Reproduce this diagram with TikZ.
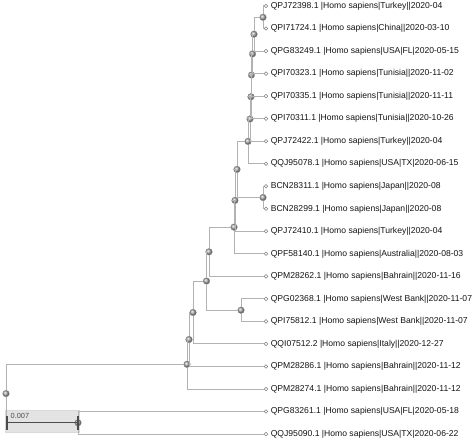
\documentclass[tikz,border=0pt]{standalone}
\usepackage{fontspec}
\setmainfont{Liberation Sans}
\usetikzlibrary{positioning}

\tikzset{
  clade/.style={circle,draw=gray!90,inner sep=0pt,minimum size=6.6pt,ball color=gray!65},
  tip/.style={circle,draw=gray,fill=white,inner sep=0pt,minimum size=3.6pt,line width=0.55pt},
  taxon/.style={inner sep=0pt,text=black!92,font=\fontsize{8.6}{10}\selectfont},
  branch/.style={draw=gray!60,line width=1pt,to path={|- (\tikztotarget)}},
}

\begin{document}
\begin{tikzpicture}[x=1pt,y=-1pt]
    \useasboundingbox (0,0) rectangle (474,441);
    % scale bar background
    \filldraw[fill=gray!22,draw=gray!30,line width=0.4pt] (5,410) rectangle (79,432);
    \begin{scope}[every node/.style={clade}]
    \node (r) at (6,393.6) {};
    \node (nb) at (78,422.8) {};
    \node (m) at (187,364.3) {};
    \node (l) at (189,339.5) {};
    \node (k) at (193,312.5) {};
    \node (d) at (206.5,281.0) {};
    \node (j) at (209,251.8) {};
    \node (c) at (241,310.2) {};
    \node (i) at (234,227.1) {};
    \node (g) at (235,200.4) {};
    \node (f) at (237,169.4) {};
    \node (h) at (263,197.5) {};
    \node (n8) at (248,141.4) {};
    \node (n7) at (250,119.0) {};
    \node (n6) at (251,96.8) {};
    \node (n5) at (251.5,75.0) {};
    \node (n4) at (252.5,53.9) {};
    \node (n3) at (254,34.2) {};
    \node (n2) at (263,17.3) {};
    \end{scope}
    \begin{scope}[every node/.style={tip}]
    \node (l1) at (266,6) {};
    \node (l2) at (266,28.5) {};
    \node (l3) at (266,51.1) {};
    \node (l4) at (266,73.6) {};
    \node (l5) at (266,96.1) {};
    \node (l6) at (266,118.6) {};
    \node (l7) at (266,141.2) {};
    \node (l8) at (266,163.7) {};
    \node (l9) at (266,186.2) {};
    \node (l10) at (266,208.8) {};
    \node (l11) at (266,231.3) {};
    \node (l12) at (266,253.8) {};
    \node (l13) at (266,276.4) {};
    \node (l14) at (266,298.9) {};
    \node (l15) at (266,321.4) {};
    \node (l16) at (266,343.9) {};
    \node (l17) at (266,366.5) {};
    \node (l18) at (266,389.0) {};
    \node (l19) at (266,411.5) {};
    \node (l20) at (266,434.1) {};
    \end{scope}
    \begin{scope}[every node/.style={taxon}]
    \node[right=2.5pt of l1] (t1) {QPJ72398.1 |Homo sapiens|Turkey||2020-04};
    \node[right=2.5pt of l2] (t2) {QPI71724.1 |Homo sapiens|China||2020-03-10};
    \node[right=2.5pt of l3] (t3) {QPG83249.1 |Homo sapiens|USA|FL|2020-05-15};
    \node[right=2.5pt of l4] (t4) {QPI70323.1 |Homo sapiens|Tunisia||2020-11-02};
    \node[right=2.5pt of l5] (t5) {QPI70335.1 |Homo sapiens|Tunisia||2020-11-11};
    \node[right=2.5pt of l6] (t6) {QPI70311.1 |Homo sapiens|Tunisia||2020-10-26};
    \node[right=2.5pt of l7] (t7) {QPJ72422.1 |Homo sapiens|Turkey||2020-04};
    \node[right=2.5pt of l8] (t8) {QQJ95078.1 |Homo sapiens|USA|TX|2020-06-15};
    \node[right=2.5pt of l9] (t9) {BCN28311.1 |Homo sapiens|Japan||2020-08};
    \node[right=2.5pt of l10] (t10) {BCN28299.1 |Homo sapiens|Japan||2020-08};
    \node[right=2.5pt of l11] (t11) {QPJ72410.1 |Homo sapiens|Turkey||2020-04};
    \node[right=2.5pt of l12] (t12) {QPF58140.1 |Homo sapiens|Australia||2020-08-03};
    \node[right=2.5pt of l13] (t13) {QPM28262.1 |Homo sapiens|Bahrain||2020-11-16};
    \node[right=2.5pt of l14] (t14) {QPG02368.1 |Homo sapiens|West Bank||2020-11-07};
    \node[right=2.5pt of l15] (t15) {QPI75812.1 |Homo sapiens|West Bank||2020-11-07};
    \node[right=2.5pt of l16] (t16) {QQI07512.2 |Homo sapiens|Italy||2020-12-27};
    \node[right=2.5pt of l17] (t17) {QPM28286.1 |Homo sapiens|Bahrain||2020-11-12};
    \node[right=2.5pt of l18] (t18) {QPM28274.1 |Homo sapiens|Bahrain||2020-11-12};
    \node[right=2.5pt of l19] (t19) {QPG83261.1 |Homo sapiens|USA|FL|2020-05-18};
    \node[right=2.5pt of l20] (t20) {QQJ95090.1 |Homo sapiens|USA|TX|2020-06-22};
    \end{scope}
    \begin{scope}[every edge/.style={branch}]
    \path (r) edge (m);
    \path (r) edge (nb);
    \path (nb) edge (l19);
    \path (nb) edge (l20);
    \path (m) edge (l);
    \path (m) edge (l18);
    \path (l) edge (k);
    \path (l) edge (l17);
    \path (k) edge (d);
    \path (k) edge (l16);
    \path (d) edge (j);
    \path (d) edge (c);
    \path (c) edge (l14);
    \path (c) edge (l15);
    \path (j) edge (i);
    \path (j) edge (l13);
    \path (i) edge (g);
    \path (i) edge (l12);
    \path (g) edge (f);
    \path (g) edge (l11);
    \path (f) edge (n8);
    \path (f) edge (h);
    \path (h) edge (l9);
    \path (h) edge (l10);
    \path (n8) edge (n7);
    \path (n8) edge (l8);
    \path (n7) edge (n6);
    \path (n7) edge (l7);
    \path (n6) edge (n5);
    \path (n6) edge (l6);
    \path (n5) edge (n4);
    \path (n5) edge (l5);
    \path (n4) edge (n3);
    \path (n4) edge (l4);
    \path (n3) edge (n2);
    \path (n3) edge (l3);
    \path (n2) edge (l1);
    \path (n2) edge (l2);
    \end{scope}
    % scale bar
    \coordinate (sb0) at (7,422.6);
    \coordinate (sb1) at (78,422.6);
    \draw[black!70,line width=1.2pt] (sb0) -- (sb1);
    \draw[black!70,line width=1.2pt] ([yshift=-7pt]sb0) -- ([yshift=7pt]sb0);
    \draw[black!70,line width=1.2pt] ([yshift=-7.5pt]sb1) -- ([yshift=7pt]sb1);
    \node[anchor=west,inner sep=0pt,text=black!70,font=\fontsize{7.4}{8}\selectfont] (sblabel) at (10.5,415.5) {0.007};
\end{tikzpicture}
\end{document}
